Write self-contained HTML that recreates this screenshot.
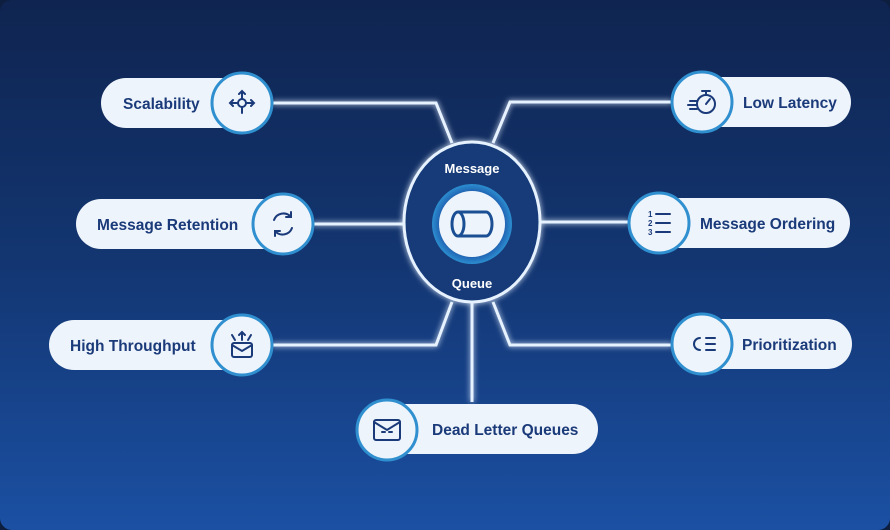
<!DOCTYPE html>
<html><head><meta charset="utf-8"><style>
html,body{margin:0;padding:0;background:#0d1e3f;}
svg{display:block;font-family:"Liberation Sans",sans-serif;}
</style></head><body>
<svg width="890" height="530" viewBox="0 0 890 530" xmlns="http://www.w3.org/2000/svg">
<defs>
<linearGradient id="bg" x1="0" y1="0" x2="0" y2="1">
<stop offset="0" stop-color="#0f2450"/><stop offset="0.5" stop-color="#133672"/><stop offset="1" stop-color="#1b50a3"/>
</linearGradient>
<radialGradient id="inner" cx="0.5" cy="0.5" r="0.5">
<stop offset="0.8" stop-color="#1f5fb0"/><stop offset="1" stop-color="#2c8ed0"/>
</radialGradient>
<filter id="glow" x="-20%" y="-20%" width="140%" height="140%"><feGaussianBlur stdDeviation="3" result="b"/><feMerge><feMergeNode in="b"/><feMergeNode in="SourceGraphic"/></feMerge></filter>
</defs>
<rect width="890" height="530" rx="12" fill="url(#bg)"/>
<g stroke="#e6f2ff" stroke-width="3" fill="none" filter="url(#glow)">
<polyline points="272,103 436,103 452,143"/>
<polyline points="672,102 510,102 493,143"/>
<polyline points="313,224 404,224"/>
<polyline points="540,222 629,222"/>
<polyline points="272,345 436,345 452,302"/>
<polyline points="672,345 510,345 493,302"/>
<polyline points="472,302 472,402"/>
<ellipse cx="472" cy="222" rx="68" ry="80" fill="#123a78"/>
</g>
<circle cx="472" cy="224" r="40" fill="url(#inner)"/>
<circle cx="472" cy="224" r="33" fill="#eef4fb"/>
<g stroke="#1b4f94" stroke-width="3" fill="none">
<path d="M458 212 H486 A6 12 0 0 1 486 236 H458"/>
<ellipse cx="458" cy="224" rx="6" ry="12"/>
</g>
<text x="472" y="173" fill="#fff" font-size="13" font-weight="bold" text-anchor="middle">Message</text>
<text x="472" y="288" fill="#fff" font-size="13" font-weight="bold" text-anchor="middle">Queue</text>
<g font-size="15.5" font-weight="bold" fill="#1a3a7a">
<rect x="101" y="78" width="160" height="50" rx="25" fill="#eef4fb"/>
<text x="123" y="109">Scalability</text>
<rect x="76" y="199" width="220" height="50" rx="25" fill="#eef4fb"/>
<text x="97" y="230">Message Retention</text>
<rect x="49" y="320" width="200" height="50" rx="25" fill="#eef4fb"/>
<text x="70" y="351">High Throughput</text>
<rect x="380" y="404" width="218" height="50" rx="25" fill="#eef4fb"/>
<text x="432" y="435">Dead Letter Queues</text>
<rect x="690" y="77" width="161" height="50" rx="25" fill="#eef4fb"/>
<text x="743" y="108">Low Latency</text>
<rect x="650" y="198" width="200" height="50" rx="25" fill="#eef4fb"/>
<text x="700" y="229">Message Ordering</text>
<rect x="690" y="319" width="162" height="50" rx="25" fill="#eef4fb"/>
<text x="742" y="350">Prioritization</text>
</g>
<g fill="#eef4fb" stroke="#2f8fcf" stroke-width="3">
<circle cx="242" cy="103" r="30"/>
<circle cx="283" cy="224" r="30"/>
<circle cx="242" cy="345" r="30"/>
<circle cx="387" cy="430" r="30"/>
<circle cx="702" cy="102" r="30"/>
<circle cx="659" cy="223" r="30"/>
<circle cx="702" cy="344" r="30"/>
</g>
<g stroke="#1a3a7a" stroke-width="2" fill="none" stroke-linecap="round">
<circle cx="242" cy="103" r="4"/><path d="M242 99V91M239 94l3-3 3 3M238 103h-8M233 100l-3 3 3 3M246 103h8M251 100l3 3-3 3M242 107v6"/>
<path d="M274 220a10 10 0 0 1 17-3M292 228a10 10 0 0 1-17 3M291 212v5h-5M275 236v-5h5"/>
<rect x="232" y="343" width="20" height="14" rx="2"/><path d="M232 345l10 6 10-6M242 340v-8M239 335l3-3 3 3M235 340l-3-5M248 340l3-5"/>
<rect x="374" y="420" width="26" height="20" rx="2"/><path d="M374 422l13 8 13-8M382 432h3M389 432h3"/>
<circle cx="706" cy="104" r="9"/><path d="M706 91v4M702 91h8M706 104l4-5M690 101h7M688 105h8M690 109h7"/>
<path d="M656 214h14M656 223h14M656 232h14"/>
<path d="M700 338a6 6 0 0 0 0 12M706 338h9M706 344h9M706 350h9"/>
</g>
<g font-size="8" fill="#1a3a7a" font-weight="bold"><text x="648" y="217">1</text><text x="648" y="226">2</text><text x="648" y="235">3</text></g>
</svg>
</body></html>
